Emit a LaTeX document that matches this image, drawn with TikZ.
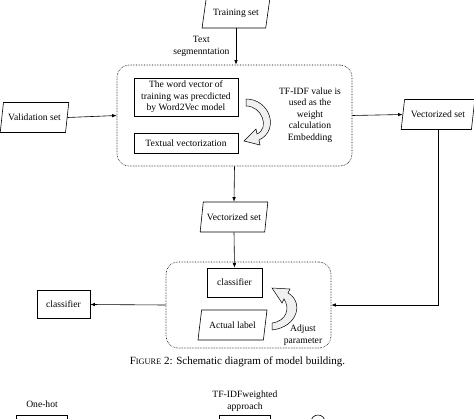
\documentclass[tikz,border=0pt]{standalone}
\usepackage{fontspec}
\setmainfont{Liberation Serif}
\usetikzlibrary{shapes.geometric,arrows.meta}

\begin{document}
\begin{tikzpicture}[x=1pt, y=-1pt, line width=.6pt, >={Latex[length=4.5pt,width=3.5pt]},
		every node/.append style={font=\fontsize{9.6}{11.5}\selectfont, text=black},
		box/.style={draw, align=center, inner sep=2pt},
		dataset/.style={draw, trapezium, trapezium left angle=72, trapezium right angle=108, trapezium stretches=true, minimum width=68pt, minimum height=30pt, inner sep=1pt},
		group/.style={draw, densely dotted, rounded corners=12pt},
		turn/.style={draw, fill=gray!12, line width=.5pt}]
		\path[use as bounding box] (0,0) rectangle (474,418);
		\clip (0,0) rectangle (474,418);

		\node[dataset] (train) at (236,13) {Training set};
		\node[group, minimum width=235pt, minimum height=101pt] (embed) at (234.5,115.5) {};
		\node[box, minimum width=104pt, minimum height=38pt] (w2v) at (186,97) {The word vector of\\training was precdicted\\by Word2Vec model};
		\node[box, minimum width=104pt, minimum height=20pt] (vect) at (186,143) {Textual vectorization};
		\node[align=center] (tfidf) at (310,115) {TF-IDF value is\\used as the\\weight\\calculation\\Embedding};
		\node[dataset, minimum width=69pt] (valid) at (34.5,117.5) {Validation set};
		\node[dataset, minimum width=74pt] (vecout) at (438,114.5) {Vectorized set};
		\node[dataset] (vecmid) at (234,217) {Vectorized set};
		\node[group, minimum width=165pt, minimum height=86pt] (model) at (248.5,305) {};
		\node[box, minimum width=55pt, minimum height=29pt] (clsin) at (234.5,282.5) {classifier};
		\node[dataset, minimum width=69pt] (label) at (232.5,325) {Actual label};
		\node[align=center] (adjust) at (303,335) {Adjust\\parameter};
		\node[box, minimum width=53pt, minimum height=28pt] (clsout) at (63.5,304.5) {classifier};
		\node[font=\fontsize{11}{13}\selectfont] (caption) at (237.5,362) {F{\fontsize{8.3}{10}\selectfont IGURE} 2: Schematic diagram of model building.};

		\draw[->] (train.south) -- node[left=3pt, align=center] {Text\\segmenntation} (train.south |- embed.north);
		\draw[->] (valid.east) -- (embed.west);
		\draw[->] (embed.east) -- (vecout.west);
		\draw[->] (embed.south) -- (vecmid.north);
		\draw[->] (vecmid.south) -- (clsin.north);
		\draw[->] (vecout.south) |- (model.east);
		\draw[->] (model.west) -- (clsout.east);

		\draw[turn] (246,99) .. controls (270,99) and (280,130) .. (259,140) -- (260,145) -- (244,141) -- (256,129) -- (257,134) .. controls (270,128) and (262,106) .. (246,106) -- cycle;
		\draw[turn] (272,330) .. controls (298,327) and (304,302) .. (288,293) -- (290,289) -- (272,288) -- (282,303) -- (284,299) .. controls (290,308) and (287,321) .. (272,323) -- cycle;

		\node (onehot) at (42,404) {One-hot};
		\node[box, minimum width=51pt, minimum height=30pt] (onebox) at (41.5,430) {};
		\node[align=center] (tfw) at (245,401) {TF-IDFweighted\\approach};
		\node[box, minimum width=51pt, minimum height=30pt] (tfbox) at (244.5,430) {};
		\node[draw, circle, minimum size=14pt] (sum) at (318,422) {};
	\end{tikzpicture}
\end{document}
